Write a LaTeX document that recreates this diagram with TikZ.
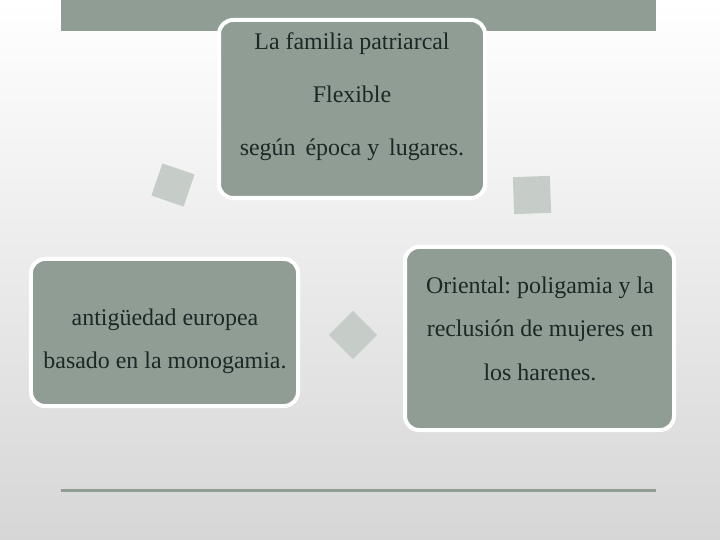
\documentclass[tikz,border=0pt]{standalone}
\usepackage{fontspec}
\setmainfont{Liberation Serif}
\frenchspacing
\begin{document}
\begin{tikzpicture}[x=1bp,y=-1bp,
  box/.style={draw=white,line width=4bp,fill=boxgreen,rounded corners=14bp},
  txt/.style={text=textdark,font=\fontsize{24}{28}\selectfont,inner sep=0pt,anchor=base},
  deco/.style={fill=decogray,draw=none,minimum size=34bp,inner sep=0pt}]
\definecolor{boxgreen}{HTML}{8F9D94}
\definecolor{textdark}{HTML}{1E2626}
\definecolor{decogray}{HTML}{C6CDC9}
\shade[top color=white,bottom color=black!16] (0,0) rectangle (720,540);
\useasboundingbox (0,0) rectangle (720,540);
\fill[boxgreen] (61,0) rectangle (656,31);
\node[box,minimum width=266bp,minimum height=178bp] (top) at (352,109) {};
\node[box,minimum width=267bp,minimum height=147bp] (left) at (164.5,332.5) {};
\node[box,minimum width=269bp,minimum height=183bp] (right) at (539.5,338.5) {};
\node[txt] (t1) at (352,50) {La familia patriarcal};
\node[txt] (t2) at (352,103) {Flexible};
\node[txt] (t3) at (352,156) {según\, época y\, lugares.};
\node[txt] (l1) at (165,325) {antigüedad europea};
\node[txt] (l2) at (165,368) {basado en la monogamia.};
\node[txt] (r1) at (540,293) {Oriental: poligamia y la};
\node[txt] (r2) at (540,336) {reclusión de mujeres en};
\node[txt] (r3) at (540,380) {los harenes.};
\node[deco,rotate=-19] (d1) at (173,185) {};
\node[deco,minimum size=37bp,rotate=2] (d2) at (532,195) {};
\node[deco,rotate=45] (d3) at (353,335) {};
\fill[boxgreen] (61,488.5) rectangle (656,492);
\end{tikzpicture}
\end{document}
